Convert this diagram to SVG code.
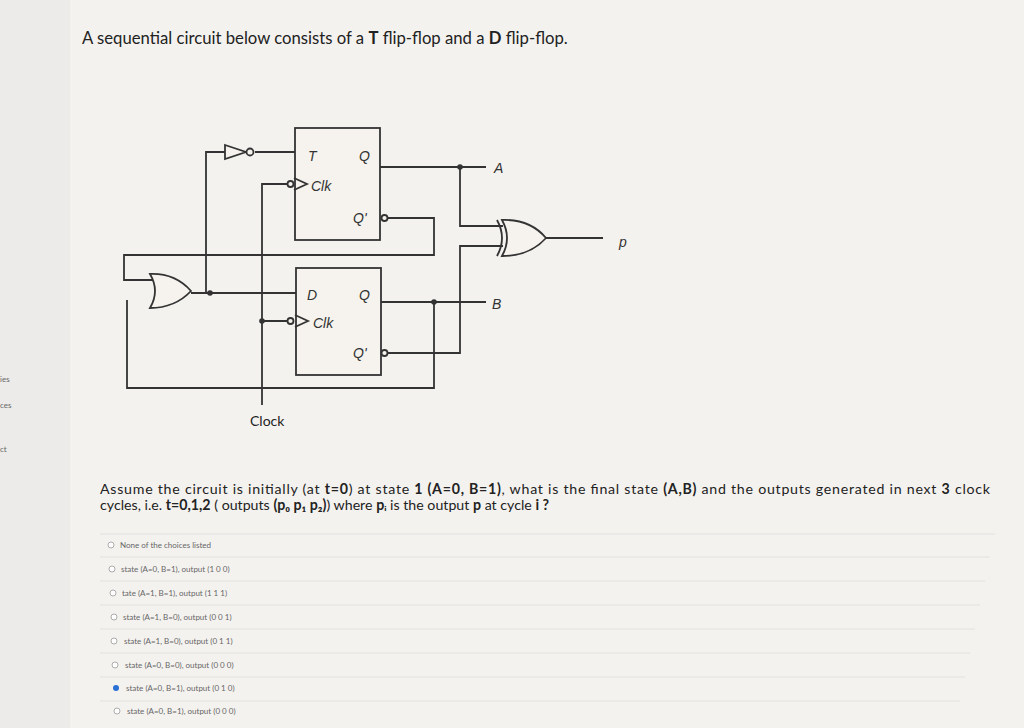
<svg xmlns="http://www.w3.org/2000/svg" width="1024" height="728" viewBox="0 0 1024 728">
<style>
.w{fill:none;stroke:#333;stroke-width:1.8}
.b{fill:#f6f3ee;stroke:#333;stroke-width:1.8}
.t{font-family:"Lato","Liberation Sans",sans-serif;fill:#222}
.i{font-family:"Liberation Sans",sans-serif;font-style:italic;fill:#333;font-size:14px}
.c{font-family:"Lato","Liberation Sans",sans-serif;fill:#666;font-size:8px}
.r{fill:#fff;stroke:#999;stroke-width:0.8}
.s{stroke:#ddd;stroke-width:0.8}
</style>
<rect width="1024" height="728" fill="#e4e2df"/>
<rect x="70" y="0" width="954" height="728" fill="#f4f2ef"/>
<rect x="0" y="0" width="70" height="728" fill="#ecebe9"/>
<text x="0" y="382" class="c" fill="#77a">ies</text>
<text x="0" y="408" class="c">ces</text>
<text x="0" y="452" class="c">ct</text>
<text x="82" y="44" class="t" font-size="16.7">A sequential circuit below consists of a <tspan font-weight="bold">T</tspan> flip-flop and a <tspan font-weight="bold">D</tspan> flip-flop.</text>
<g id="connectors">
<path class="w" d="M380 167H486M460 167V226H503M206 293V152H225M255 152H295M262 405V184H287M262 321H287M388 218H434V255H124V280H156M127 300V388H434V302M381 302H486M388 353H460V246H503M191 293H296M546 238H603"/>
<circle cx="460" cy="167" r="2.8" fill="#333"/><circle cx="434" cy="302" r="2.8" fill="#333"/>
<circle cx="210" cy="293" r="2.8" fill="#333"/><circle cx="262" cy="321" r="2.8" fill="#333"/>
</g>
<g id="tff"><rect class="b" x="295" y="128" width="85" height="112"/>
<path class="w" d="M294 178L307 184L294 190"/><circle class="b" cx="290.5" cy="184" r="3"/><circle class="b" cx="384.5" cy="218" r="3"/>
<text x="308" y="161" class="i">T</text><text x="359" y="161" class="i">Q</text><text x="311" y="191" class="i" font-size="11">Clk</text><text x="353" y="223" class="i">Q'</text></g>
<g id="dff"><rect class="b" x="296" y="268" width="85" height="107"/>
<path class="w" d="M295 315L308 321L295 327"/><circle class="b" cx="290.5" cy="321" r="3"/><circle class="b" cx="384.5" cy="353" r="3"/>
<text x="307" y="300" class="i">D</text><text x="359" y="300" class="i">Q</text><text x="313" y="328" class="i" font-size="11">Clk</text><text x="353" y="358" class="i">Q'</text></g>
<g id="inv"><path class="b" d="M225 145L246 152L225 159Z"/><circle class="b" cx="250" cy="152" r="3.5"/></g>
<g id="or"><path class="b" d="M150 274Q175 273 191 291Q175 308 150 308Q160 291 150 274Z"/></g>
<g id="xor"><path class="b" d="M502 220Q530 219 546 238Q530 256 502 256Q512 238 502 220Z"/><path class="w" d="M497 220Q507 238 497 256"/></g>
<text x="494" y="173" class="i" font-size="15">A</text>
<text x="492" y="309" class="i" font-size="14">B</text>
<text x="619" y="247" class="i" font-size="15">p</text>
<text x="250" y="426" class="t" font-size="14">Clock</text>
<text x="100" y="494" class="t" font-size="14.2" textLength="890">Assume the circuit is initially (at <tspan font-weight="bold">t=0</tspan>) at state <tspan font-weight="bold">1 (A=0, B=1)</tspan>, what is the final state <tspan font-weight="bold">(A,B)</tspan> and the outputs generated  in next <tspan font-weight="bold">3</tspan> clock</text>
<text x="100" y="510" class="t" font-size="14.2">cycles, i.e. <tspan font-weight="bold">t=0,1,2</tspan>  ( outputs <tspan font-weight="bold">(p₀ p₁ p₂)</tspan>) where <tspan font-weight="bold">pᵢ</tspan> is the output <tspan font-weight="bold">p</tspan> at cycle <tspan font-weight="bold">i ?</tspan></text>
<g id="choices">
<path class="s" d="M100 534H995M100 557H990M100 581H985M100 605H980M100 629H975M100 653H970M100 677H965M100 701H960"/>
<circle class="r" cx="111" cy="545" r="3"/><text x="120" y="548" class="c">None of the choices listed</text>
<circle class="r" cx="112" cy="569" r="3"/><text x="121" y="572" class="c">state (A=0, B=1), output (1 0 0)</text>
<circle class="r" cx="113" cy="593" r="3"/><text x="122" y="596" class="c">tate (A=1, B=1), output (1 1 1)</text>
<circle class="r" cx="114" cy="617" r="3"/><text x="123" y="620" class="c">state (A=1, B=0), output (0 0 1)</text>
<circle class="r" cx="114" cy="641" r="3"/><text x="124" y="644" class="c">state (A=1, B=0), output (0 1 1)</text>
<circle class="r" cx="115" cy="665" r="3"/><text x="125" y="668" class="c">state (A=0, B=0), output (0 0 0)</text>
<circle cx="116" cy="688" r="3" fill="#2a6fd6"/><text x="126" y="691" class="c">state (A=0, B=1), output (0 1 0)</text>
<circle class="r" cx="117" cy="711" r="3"/><text x="127" y="714" class="c">state (A=0, B=1), output (0 0 0)</text>
</g>
</svg>
